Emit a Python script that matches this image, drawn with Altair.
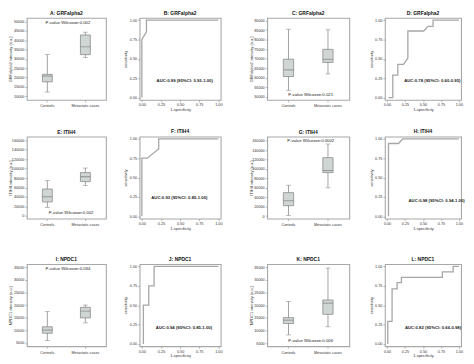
import altair as alt
import pandas as pd

GROUPS = ["Controls", "Metastatic cases"]

# box summaries: [min, q1, median, q3, max]
A_CTRL = [12200, 17700, 20800, 21700, 32300]
A_META = [30800, 32300, 36400, 42800, 44300]
C_CTRL = [53400, 60600, 64100, 69700, 85500]
C_META = [62000, 68000, 69700, 74900, 85200]
E_CTRL = [17800, 29400, 40300, 56700, 74500]
E_META = [64300, 72500, 82700, 91600, 101200]
G_CTRL = [1400, 22000, 32400, 49700, 65500]
G_META = [60000, 92400, 96600, 124100, 153100]
I_CTRL = [6000, 8850, 10100, 11400, 17400]
I_META = [12950, 14900, 17600, 19100, 20000]
K_CTRL = [8300, 12800, 14100, 15100, 21500]
K_META = [11500, 16400, 20800, 22050, 34600]

A_TICKS = [10000, 15000, 20000, 25000, 30000, 35000, 40000, 45000, 50000]
C_TICKS = [50000, 55000, 60000, 65000, 70000, 75000, 80000, 85000, 90000]
E_TICKS = [0, 20000, 40000, 60000, 80000, 100000, 120000, 140000, 160000]
G_TICKS = [0, 20000, 40000, 60000, 80000, 100000, 120000, 140000, 160000]
I_TICKS = [5000, 10000, 15000, 20000, 25000, 30000, 35000]
K_TICKS = [5000, 10000, 15000, 20000, 25000, 30000, 35000]

P_TEXTS = ["P-value Wilcoxon:0.002", "P-value Wilcoxon:0.021", "P-value Wilcoxon:0.002",
           "P-value Wilcoxon:0.0002", "P-value Wilcoxon:0.034", "P-value Wilcoxon:0.006"]
P_Y = [49000, 51000, 5500, 160000, 34400, 5800]

# ROC step curves
B_FPR = [0, 0, 0.06, 0.06, 1.0]
B_TPR = [0, 0.75, 0.85, 1.0, 1.0]
D_FPR = [0.02, 0.08, 0.08, 0.15, 0.15, 0.23, 0.29, 0.29, 0.51, 0.57, 0.64, 0.64, 1.0]
D_TPR = [0, 0, 0.29, 0.29, 0.43, 0.43, 0.51, 0.86, 0.86, 0.92, 0.92, 1.0, 1.0]
F_FPR = [0, 0, 0.07, 0.22, 0.22, 1.0]
F_TPR = [0, 0.75, 0.75, 0.87, 1.0, 1.0]
H_FPR = [0.02, 0.02, 0.16, 0.22, 1.0]
H_TPR = [0, 0.94, 0.94, 1.0, 1.0]
J_FPR = [0.02, 0.02, 0.09, 0.09, 0.16, 0.16, 1.0]
J_TPR = [0, 0.5, 0.5, 0.75, 0.75, 1.0, 1.0]
L_FPR = [0.01, 0.01, 0.07, 0.07, 0.14, 0.14, 0.2, 0.2, 0.77, 0.77, 0.92, 0.92, 1.0]
L_TPR = [0, 0.29, 0.29, 0.71, 0.71, 0.79, 0.79, 0.86, 0.86, 0.93, 0.93, 1.0, 1.0]

AUC_TEXTS = ["AUC:0.99 (95%CI: 0.93-1.00)", "AUC:0.78 (95%CI: 0.60-0.95)",
             "AUC:0.93 (95%CI: 0.85-1.00)", "AUC:0.98 (95%CI: 0.94-1.00)",
             "AUC:0.94 (95%CI: 0.85-1.00)", "AUC:0.82 (95%CI: 0.66-0.98)"]
AUC_X = [0.56, 0.63, 0.49, 0.69, 0.55, 0.64]
AUC_Y = [0.22, 0.22, 0.24, 0.20, 0.21, 0.21]

ROC_TICKS = [0, 0.25, 0.5, 0.75, 1.0]

FILL = "#cfd6d3"
LINE = "#8a8a8a"
MED = "#707070"
CURVE = "#a6a6a6"
TXT = "#222222"

H = 83


def box_panel(title, ctrl, meta, yvals, ydom, ytitle, ptext, py, pfrac, w):
    df = pd.DataFrame({
        "group": GROUPS,
        "lo": [ctrl[0], meta[0]], "q1": [ctrl[1], meta[1]], "med": [ctrl[2], meta[2]],
        "q3": [ctrl[3], meta[3]], "hi": [ctrl[4], meta[4]],
    })
    x = alt.X("group:N", sort=GROUPS,
              scale=alt.Scale(paddingInner=0.74, paddingOuter=0.41),
              axis=alt.Axis(title=None, labelAngle=0, labelPadding=2))
    ysc = alt.Scale(domain=ydom, nice=False, zero=False)
    yax = alt.Axis(title=ytitle, values=yvals, format="d", minExtent=13, maxExtent=13)

    def Y(f):
        return alt.Y(f, scale=ysc, axis=yax)

    base = alt.Chart(df)
    whisk = base.mark_rule(color=LINE, strokeWidth=0.8).encode(x=x, y=Y("lo:Q"), y2="hi:Q")
    box = base.mark_bar(fill=FILL, stroke=LINE, strokeWidth=0.8).encode(x=x, y=Y("q1:Q"), y2="q3:Q")
    med = base.mark_tick(color=MED, size=10, thickness=0.9).encode(x=x, y=Y("med:Q"))
    lo = base.mark_tick(color=LINE, size=5, thickness=0.8).encode(x=x, y=Y("lo:Q"))
    hi = base.mark_tick(color=LINE, size=5, thickness=0.8).encode(x=x, y=Y("hi:Q"))
    ptxt = alt.Chart(pd.DataFrame({"t": [ptext], "v": [py]})).mark_text(
        fontSize=4.3, color=TXT).encode(x=alt.value(w * pfrac), y=Y("v:Q"), text="t:N")
    return alt.layer(whisk, box, med, lo, hi, ptxt).properties(title=title, width=w, height=H)


def roc_panel(title, fpr, tpr, auc, ax, ay, w):
    df = pd.DataFrame({"fpr": fpr, "tpr": tpr, "i": list(range(len(fpr)))})
    sc = alt.Scale(domain=[-0.03, 1.03], nice=False, zero=False)
    xa = alt.Axis(title="1-specificity", values=ROC_TICKS, format=".2f")
    ya = alt.Axis(title="sensitivity", values=ROC_TICKS, format=".2f", minExtent=11, maxExtent=11)
    line = alt.Chart(df).mark_line(color=CURVE, strokeWidth=1.3).encode(
        x=alt.X("fpr:Q", scale=sc, axis=xa), y=alt.Y("tpr:Q", scale=sc, axis=ya), order="i:Q")
    txt = alt.Chart(pd.DataFrame({"t": [auc], "x": [ax], "y": [ay]})).mark_text(
        fontSize=4.3, fontWeight="bold", color=TXT).encode(
        x=alt.X("x:Q", scale=sc, axis=xa), y=alt.Y("y:Q", scale=sc, axis=ya), text="t:N")
    return alt.layer(line, txt).properties(title=title, width=w, height=H)


WA, WB, WC, WD = 80, 82, 83, 77

A = box_panel("A: GRFalpha2", A_CTRL, A_META, A_TICKS, [8000, 52000], "GRFalpha2 intensity (a.u.)", P_TEXTS[0], P_Y[0], 0.52, WA)
B = roc_panel("B: GRFalpha2", B_FPR, B_TPR, AUC_TEXTS[0], AUC_X[0], AUC_Y[0], WB)
C = box_panel("C: GRFalpha2", C_CTRL, C_META, C_TICKS, [48300, 91500], "GRFalpha2 intensity (a.u.)", P_TEXTS[1], P_Y[1], 0.53, WC)
D = roc_panel("D: GRFalpha2", D_FPR, D_TPR, AUC_TEXTS[1], AUC_X[1], AUC_Y[1], WD)
E = box_panel("E: ITIH4", E_CTRL, E_META, E_TICKS, [-6000, 168000], "ITIH4 intensity (a.u.)", P_TEXTS[2], P_Y[2], 0.56, WA)
F = roc_panel("F: ITIH4", F_FPR, F_TPR, AUC_TEXTS[2], AUC_X[2], AUC_Y[2], WB)
G = box_panel("G: ITIH4", G_CTRL, G_META, G_TICKS, [-5500, 169000], "ITIH4 intensity (a.u.)", P_TEXTS[3], P_Y[3], 0.53, WC)
Hh = roc_panel("H: ITIH4", H_FPR, H_TPR, AUC_TEXTS[3], AUC_X[3], AUC_Y[3], WD)
I = box_panel("I: NPDC1", I_CTRL, I_META, I_TICKS, [3700, 36200], "NPDC1 intensity (a.u.)", P_TEXTS[4], P_Y[4], 0.52, WA)
J = roc_panel("J: NPDC1", J_FPR, J_TPR, AUC_TEXTS[4], AUC_X[4], AUC_Y[4], WB)
K = box_panel("K: NPDC1", K_CTRL, K_META, K_TICKS, [3850, 36150], "NPDC1 intensity (a.u.)", P_TEXTS[5], P_Y[5], 0.53, WC)
L = roc_panel("L: NPDC1", L_FPR, L_TPR, AUC_TEXTS[5], AUC_X[5], AUC_Y[5], WD)


def row(p1, p2, p3, p4):
    return alt.hconcat(alt.hconcat(p1, p2, spacing=16), alt.hconcat(p3, p4, spacing=18), spacing=26)


chart = alt.vconcat(
    row(A, B, C, D),
    alt.vconcat(row(E, F, G, Hh), row(I, J, K, L), spacing=25),
    spacing=16,
).properties(padding=0).configure_view(
    stroke="#a8a8a8", strokeWidth=1.1
).configure_axis(
    domain=False, grid=False, tickColor="#888888", tickSize=2, tickWidth=0.6,
    labelFontSize=3.8, titleFontSize=4, labelColor="#333333", titleColor="#333333",
    labelPadding=1, titlePadding=1, labelFont="Liberation Sans", titleFont="Liberation Sans",
    titleFontWeight="normal",
).configure_title(
    fontSize=5, fontWeight="bold", offset=2, anchor="middle", font="Liberation Sans", color="#111111"
)

chart.save("out.html", embed_options={"renderer": "svg", "actions": False})
